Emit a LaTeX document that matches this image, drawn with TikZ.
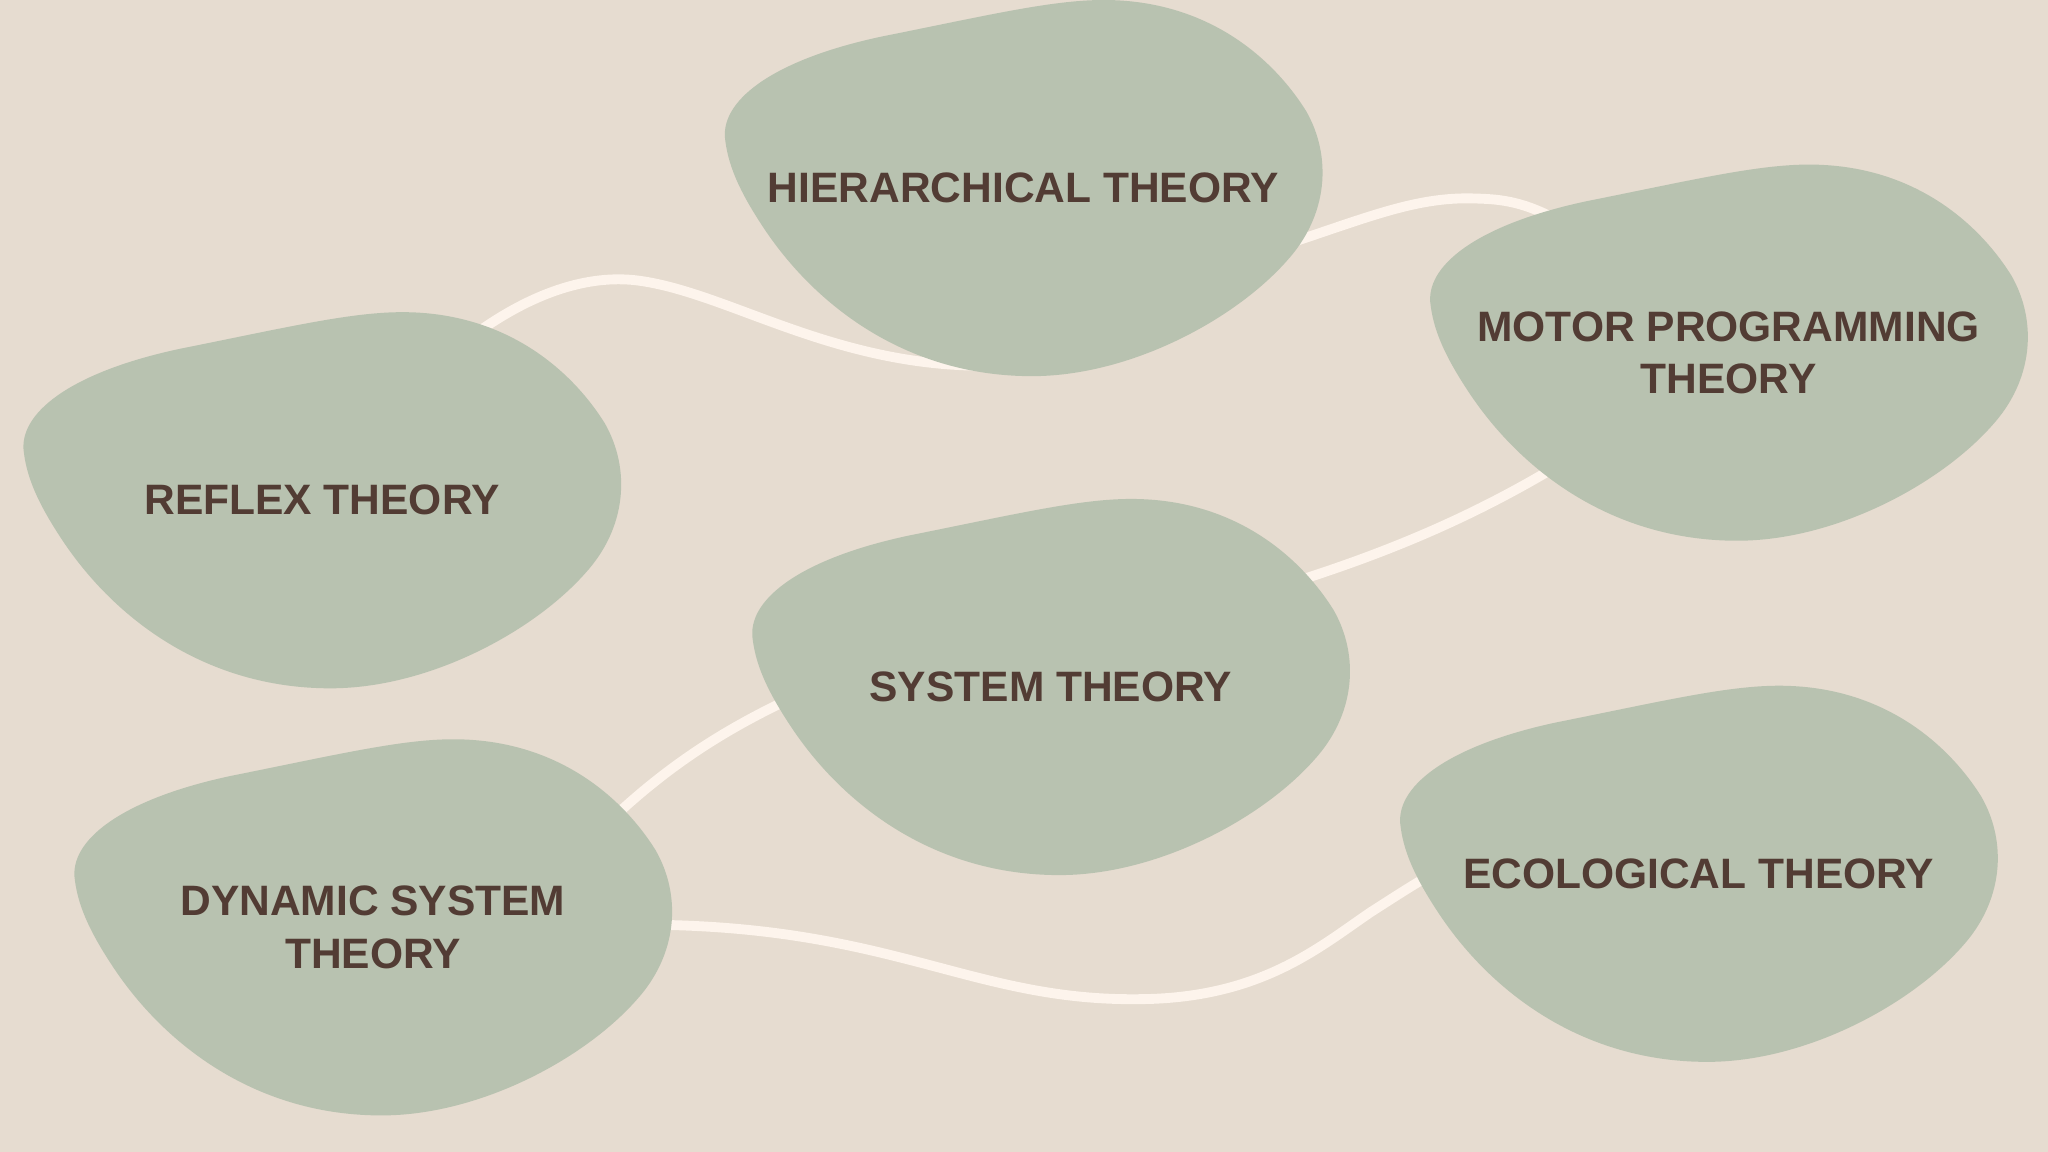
\documentclass[tikz,border=0pt]{standalone}
\usepackage{fontspec}
\setmainfont{Liberation Sans}

\definecolor{paper}{HTML}{E6DCD0}
\definecolor{sage}{HTML}{B8C2B0}
\definecolor{bark}{HTML}{523C34}
\definecolor{cream}{HTML}{FDF4EC}

\pgfdeclarelayer{links}
\pgfdeclarelayer{blobs}
\pgfsetlayers{links,blobs,main}

\tikzset{
  theory/.style={align=center, text=bark, font=\fontsize{12.1}{14.9}\selectfont\bfseries},
  link/.style={draw=cream, line width=2.8pt},
  blob/.style={fill=sage}
}

\newcommand{\blobat}[1]{%
  \fill[blob,shift={(#1.center)}] (-228.5,-39)
    .. controls (-230.5,-69) and (-188.5,-99) .. (-108.5,-116)
    .. controls (-28.5,-132) and (21.5,-144) .. (61.5,-144)
    .. controls (141.5,-144) and (191.5,-99) .. (216.5,-59)
    .. controls (236.5,-24) and (233.5,21) .. (201.5,56)
    .. controls (161.5,101) and (81.5,144) .. (6.5,144)
    .. controls (-88.5,144) and (-158.5,91) .. (-198.5,31)
    .. controls (-218.5,1) and (-226.5,-19) .. (-228.5,-39) -- cycle;}

\begin{document}
\begin{tikzpicture}[x=0.0130612cm,y=-0.0130612cm]

\node[theory] (hier) at (783.5,144) {HIERARCHICAL THEORY};
\node[theory] (motor) at (1323.5,270) {MOTOR PROGRAMMING\\THEORY};
\node[theory] (reflex) at (246.5,383) {REFLEX THEORY};
\node[theory] (system) at (804.5,526) {SYSTEM THEORY};
\node[theory] (dynamic) at (285.5,710) {DYNAMIC SYSTEM\\THEORY};
\node[theory] (eco) at (1300.5,669) {ECOLOGICAL THEORY};

\begin{pgfonlayer}{blobs}
\foreach \n in {hier,motor,reflex,system,dynamic,eco} {\blobat{\n}}
\end{pgfonlayer}

\begin{pgfonlayer}{links}
\fill[paper] (0,0) rectangle (1568,882);
\draw[link] (reflex.center) .. controls (330,260) and (420,205) .. (490,215)
  .. controls (560,225) and (640,282) .. (760,280) -- (hier.center);
\draw[link] (hier.center) -- (960,195) .. controls (1040,170) and (1080,150) .. (1130,152)
  .. controls (1170,153) and (1200,160) .. (motor.center);
\draw[link] (system.center) -- (970,452) .. controls (1060,425) and (1130,395) .. (1200,352) -- (motor.center);
\draw[link] (system.center) -- (620,528) .. controls (560,555) and (510,585) .. (455,640) -- (dynamic.center);
\draw[link] (dynamic.center) -- (480,708) .. controls (680,706) and (740,766) .. (870,765)
  .. controls (965,765) and (1010,725) .. (1050,698)
  .. controls (1075,682) and (1090,672) .. (1110,662) -- (eco.center);
\end{pgfonlayer}

\end{tikzpicture}
\end{document}
